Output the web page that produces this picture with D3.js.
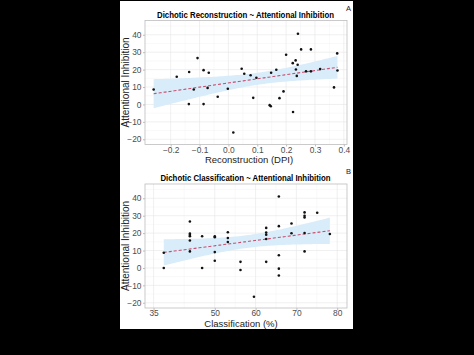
<!DOCTYPE html>
<html><head><meta charset="utf-8">
<script src="https://cdn.jsdelivr.net/npm/d3@7/dist/d3.min.js"></script>
<style>html,body{margin:0;padding:0;background:#000;}svg{display:block;}</style>
</head><body>
<script>
// ---- data ----
const reconX = [-0.259,-0.179,-0.136,-0.107,-0.086,-0.068,-0.12,-0.072,-0.137,-0.086,-0.037,-0.002,0.017,0.046,0.055,0.077,0.086,0.097,0.148,0.166,0.143,0.147,0.177,0.191,0.2,0.224,0.223,0.233,0.234,0.24,0.237,0.241,0.252,0.269,0.286,0.286,0.318,0.366,0.377,0.378];
const reconY = [8.6,15.9,18.6,26.6,19.7,18.2,8.6,9.5,0.2,0.2,4.4,9.0,-16.1,20.5,17.6,16.8,3.8,15.3,18.2,19.9,-0.4,-1.0,3.6,7.5,28.5,-4.3,23.7,25.3,20.1,22.8,16.4,40.6,31.6,19.0,19.0,31.6,20.3,9.8,29.3,19.5];
const classX = [37.5,37.5,43.9,43.9,43.9,43.9,43.9,43.9,46.9,46.9,50,50,50,50,53.2,53.2,53.2,56.3,56.3,59.6,62.6,62.6,62.6,62.6,62.6,65.7,65.7,65.7,65.7,65.7,68.8,68.8,72,72,72,72,72,75.1,78.2];
const classY = [8.7,0,26.7,19.7,18.9,18.2,15.8,9.5,18.2,0,18.2,17.6,9.1,4.1,20.5,17.2,14.9,3.5,-1.2,-16.5,23.0,20.3,19.1,16.6,3.5,41.0,24.0,7.3,-0.4,-4.3,25.5,19.9,31.9,29.9,29.0,20.1,9.5,31.7,19.5];
const reconTicks = [-0.2,-0.1,0.0,0.1,0.2,0.3,0.4];
const classTicks = [35,50,60,70,80];
const yTicks = [-20,-10,0,10,20,30,40];

const W = 474, H = 355;
const svg = d3.select("body").append("svg").attr("width", W).attr("height", H);
svg.append("rect").attr("width", W).attr("height", H).attr("fill", "#000");
svg.append("rect").attr("x", 120).attr("y", 1).attr("width", 233).attr("height", 328).attr("fill", "#fff");

const FONT = "Liberation Sans, Arial, Helvetica, sans-serif";

function fit(xs, ys) {
  const n = xs.length;
  const mx = d3.mean(xs), my = d3.mean(ys);
  let sxx = 0, sxy = 0;
  for (let i = 0; i < n; i++) { sxx += (xs[i]-mx)**2; sxy += (xs[i]-mx)*(ys[i]-my); }
  const b = sxy / sxx, a = my - b*mx;
  let sse = 0;
  for (let i = 0; i < n; i++) sse += (ys[i] - a - b*xs[i])**2;
  const s = Math.sqrt(sse/(n-2));
  const t = 2.024;
  const x0 = d3.min(xs), x1 = d3.max(xs);
  return d3.range(0, 81).map(k => {
    const x = x0 + (x1-x0)*k/80;
    const yhat = a + b*x;
    const se = s*Math.sqrt(1/n + (x-mx)**2/sxx);
    return {x, y: yhat, lo: yhat - t*se, hi: yhat + t*se};
  });
}

function panel(opt) {
  const {top, xs, ys, xDomain, xTicks, xFmt, title, tag, xLabel, xLabelX, titleLen} = opt;
  const left = 145, right = 347, bottom = top + 124;
  const x = d3.scaleLinear().domain(xDomain).range([left, right]);
  const y = d3.scaleLinear().domain([-23, 48.2]).range([bottom, top]);
  const g = svg.append("g");
  const xMinor = xTicks.slice(0, -1).map((t, i) => (t + xTicks[i+1]) / 2);
  const yMinor = yTicks.slice(0, -1).map((t, i) => (t + yTicks[i+1]) / 2).concat([45]);
  g.selectAll(".xm").data(xMinor).join("line")
    .attr("x1", d => x(d)).attr("x2", d => x(d)).attr("y1", top).attr("y2", bottom)
    .attr("stroke", "#f3f3f3").attr("stroke-width", 0.5);
  g.selectAll(".ym").data(yMinor).join("line")
    .attr("y1", d => y(d)).attr("y2", d => y(d)).attr("x1", left).attr("x2", right)
    .attr("stroke", "#f3f3f3").attr("stroke-width", 0.5);
  g.selectAll(".xg").data(xTicks).join("line")
    .attr("x1", d => x(d)).attr("x2", d => x(d)).attr("y1", top).attr("y2", bottom)
    .attr("stroke", "#e6e6e6").attr("stroke-width", 0.6);
  g.selectAll(".yg").data(yTicks).join("line")
    .attr("y1", d => y(d)).attr("y2", d => y(d)).attr("x1", left).attr("x2", right)
    .attr("stroke", "#e6e6e6").attr("stroke-width", 0.6);

  const pts = fit(xs, ys);
  g.append("path").datum(pts)
    .attr("d", d3.area().x(d => x(d.x)).y0(d => y(d.lo)).y1(d => y(d.hi)))
    .attr("fill", "#d9ecfa");
  g.append("path").datum(pts)
    .attr("d", d3.line().x(d => x(d.x)).y(d => y(d.y)))
    .attr("fill", "none").attr("stroke", "#c8506e").attr("stroke-width", 1.1)
    .attr("stroke-dasharray", "3,2");

  g.selectAll(".pt").data(xs.map((v, i) => [v, ys[i]])).join("circle")
    .attr("cx", d => x(d[0])).attr("cy", d => y(d[1])).attr("r", 1.3).attr("fill", "#111");

  g.append("rect").attr("x", left).attr("y", top).attr("width", right-left).attr("height", bottom-top)
    .attr("fill", "none").attr("stroke", "#bdbdbd").attr("stroke-width", 0.8);

  const xa = g.append("g").attr("transform", `translate(0,${bottom})`)
    .call(d3.axisBottom(x).tickValues(xTicks).tickFormat(xFmt).tickSize(2).tickPadding(0.5));
  const ya = g.append("g").attr("transform", `translate(${left},0)`)
    .call(d3.axisLeft(y).tickValues(yTicks).tickSize(2).tickPadding(1.5));
  [xa, ya].forEach(a => {
    a.select(".domain").remove();
    a.selectAll(".tick line").attr("stroke", "#bdbdbd");
    a.selectAll("text").attr("fill", "#4d4d4d").attr("font-size", 8.4).attr("font-family", FONT);
  });

  g.append("text").attr("x", 245.5).attr("y", top - 3).attr("text-anchor", "middle")
    .attr("font-family", FONT).attr("font-weight", "bold").attr("font-size", 8.2)
    .attr("textLength", titleLen).attr("lengthAdjust", "spacingAndGlyphs")
    .text(title);
  g.append("text").attr("x", 348.5).attr("y", top - 10).attr("text-anchor", "middle")
    .attr("font-family", FONT).attr("font-size", 7.5).attr("fill", "#222").text(tag);
  g.append("text").attr("x", xLabelX).attr("y", bottom + 18.5).attr("text-anchor", "middle")
    .attr("font-family", FONT).attr("font-size", 9.5).attr("fill", "#222").text(xLabel);
  g.append("text").attr("transform", `translate(128.5,${(top+bottom)/2}) rotate(-90)`)
    .attr("text-anchor", "middle").attr("font-family", FONT).attr("font-size", 10).attr("fill", "#222")
    .text("Attentional Inhibition");
}

panel({top: 20.5, xs: reconX, ys: reconY, xDomain: [-0.289, 0.411], xTicks: reconTicks,
  xFmt: d3.format(".1f"), title: "Dichotic Reconstruction  ~ Attentional Inhibition", tag: "A",
  xLabel: "Reconstruction (DPI)", xLabelX: 249, titleLen: 177});
panel({top: 184, xs: classX, ys: classY, xDomain: [32.9, 82.4], xTicks: classTicks,
  xFmt: d3.format("d"), title: "Dichotic Classification ~ Attentional Inhibition", tag: "B",
  xLabel: "Classification (%)", xLabelX: 241, titleLen: 170});
</script>
</body></html>
